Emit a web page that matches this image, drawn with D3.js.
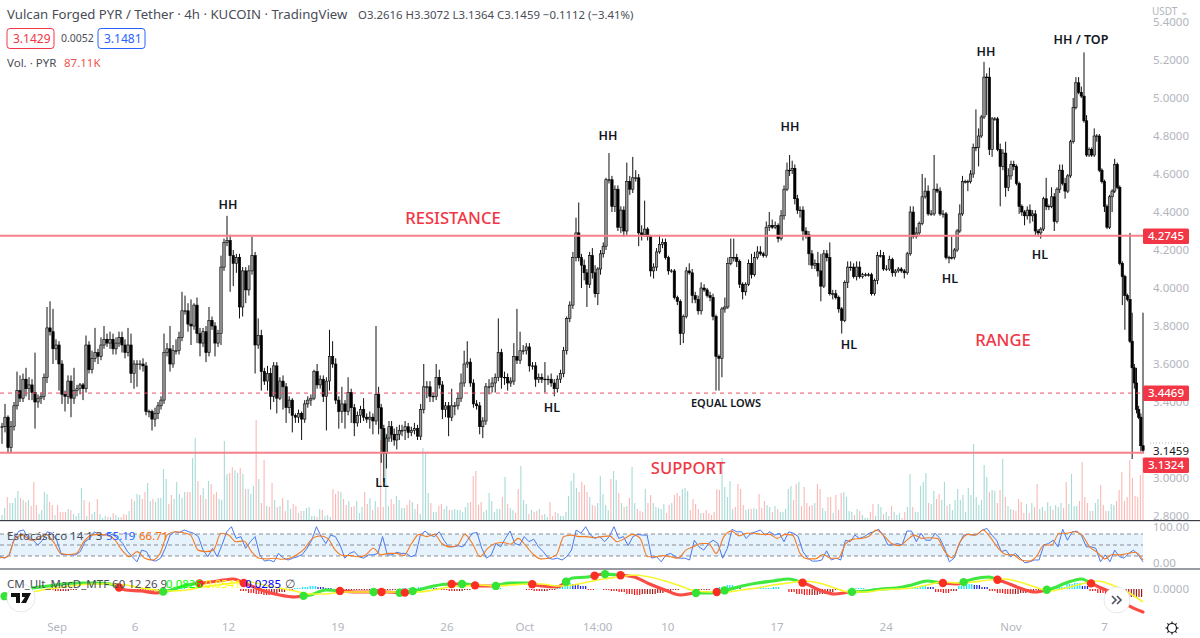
<!DOCTYPE html>
<html><head><meta charset="utf-8"><script src="https://cdnjs.cloudflare.com/ajax/libs/d3/7.8.5/d3.min.js"></script>
<style>html,body{margin:0;background:#fff;overflow:hidden}svg{display:block;font-family:"Noto Sans",sans-serif}</style></head><body><svg id="c" width="1200" height="638"></svg>
<script>
const closes=[
3.27,3.32,3.16,3.27,3.38,3.46,3.42,3.52,3.47,3.49,
3.45,3.40,3.42,3.43,3.53,3.79,3.77,3.68,3.70,3.60,
3.44,3.43,3.51,3.42,3.46,3.47,3.49,3.47,3.70,3.57,
3.63,3.66,3.64,3.70,3.73,3.71,3.73,3.68,3.71,3.74,
3.70,3.66,3.70,3.55,3.60,3.60,3.60,3.59,3.35,3.35,
3.31,3.34,3.38,3.41,3.66,3.68,3.60,3.67,3.67,3.74,
3.88,3.88,3.81,3.80,3.91,3.76,3.71,3.77,3.66,3.83,
3.80,3.71,3.76,4.11,4.24,4.25,4.17,4.13,4.16,3.90,
4.09,3.99,4.09,4.17,3.70,3.75,3.56,3.51,3.55,3.43,
3.59,3.42,3.51,3.48,3.37,3.41,3.33,3.32,3.34,3.31,
3.39,3.41,3.42,3.56,3.49,3.52,3.43,3.51,3.64,3.60,
3.41,3.35,3.39,3.35,3.45,3.37,3.29,3.33,3.36,3.32,
3.31,3.32,3.30,3.44,3.37,3.26,3.13,3.21,3.27,3.23,
3.20,3.23,3.25,
3.25,3.27,3.24,3.25,3.26,3.22,3.36,3.48,3.48,3.43,
3.43,3.53,3.49,3.36,3.38,3.32,3.38,3.38,3.42,3.50,
3.60,3.61,3.50,3.39,3.38,3.27,3.30,3.48,3.48,3.50,
3.53,3.66,3.53,3.53,3.50,3.51,3.64,3.62,3.67,3.67,
3.69,3.59,3.59,3.52,3.53,3.52,3.52,3.52,3.50,3.47,
3.52,3.55,3.67,3.84,3.91,4.16,4.29,4.16,4.12,4.08,
4.02,4.17,4.08,3.97,4.10,4.18,4.22,4.57,4.57,4.43,
4.52,4.32,4.41,4.30,4.56,4.52,4.58,4.58,4.29,4.28,
4.31,4.27,4.09,4.11,4.19,4.23,4.24,4.16,4.09,4.09,
3.95,3.93,3.76,3.85,4.09,4.08,3.96,3.94,3.88,4.00,
3.99,3.96,3.95,3.85,3.64,3.63,3.89,3.90,4.13,4.16,
4.16,4.14,4.02,3.98,4.02,4.13,4.07,4.16,4.19,4.18,
4.17,4.32,4.33,4.32,4.33,4.26,4.38,4.52,4.62,4.62,
4.63,4.47,4.41,
4.41,4.30,4.28,4.18,4.12,4.13,4.09,4.01,4.18,4.16,
3.97,3.97,3.95,3.89,3.83,4.03,4.11,4.11,4.06,4.11,
4.06,4.07,4.07,4.07,3.97,4.04,4.17,4.17,4.10,4.10,
4.15,4.08,4.09,4.10,4.09,4.08,4.18,4.40,4.27,4.29,
4.34,4.48,4.51,4.39,4.39,4.52,4.51,4.39,4.39,4.16,
4.16,4.16,4.20,4.30,4.39,4.56,4.56,4.56,4.60,4.74,
4.74,4.80,4.90,5.11,5.11,4.73,4.89,4.89,4.73,4.64,
4.71,4.53,4.59,4.65,4.64,4.55,4.43,4.40,4.38,4.41,
4.38,4.39,4.30,4.29,4.31,4.47,4.43,4.43,4.48,4.35,
4.52,4.62,4.55,4.51,4.59,4.77,4.95,5.08,5.03,5.01,
4.88,4.70,4.73,4.70,4.80,4.80,4.62,4.56,4.43,4.32,
4.48,4.51,4.65,4.53,4.13,4.06,3.96,3.94,
3.72,3.58,3.50,3.36,3.32,3.17,3.1459];
const upperWicks=[
2,7,1,3,2,10,8,3,6,4, 3,21,2,2,2,11,14,12,3,2, 2,2,3,3,12,2,1,1,5,2, 4,13,2,4,7,3,4,3,3,3,
3,3,9,6,2,2,2,3,2,1, 1,3,2,2,10,3,12,3,6,3, 10,8,4,13,1,4,3,2,3,7, 2,2,2,6,2,13,3,3,2,2,
2,2,3,10,2,9,3,2,4,3, 2,2,2,3,2,2,1,1,2,1, 2,2,2,1,4,2,2,2,14,8, 3,2,9,2,8,2,2,2,2,6,
2,3,2,36,4,2,2,2,3,3, 3,4,3,
3,3,2,2,3,2,3,12,3,3, 2,7,4,2,2,2,9,2,3,5, 7,11,2,2,2,2,2,2,4,3, 2,18,2,3,2,2,7,25,10,3,
2,2,2,2,2,2,9,2,3,2, 2,2,2,1,2,3,8,16,2,3, 2,2,4,4,1,2,2,1,14,2, 2,2,2,2,10,3,11,4,2,4,
15,1,1,2,2,5,2,2,1,1, 1,1,1,1,2,4,2,2,2,3, 2,1,2,2,1,1,1,5,3,10, 10,2,1,1,1,2,5,3,3,3,
1,3,7,3,2,1,3,2,4,8, 4,2,2,
2,2,2,2,2,2,6,9,2,2, 8,2,2,1,1,1,3,3,2,3, 3,1,1,1,1,1,2,3,2,2, 2,1,1,1,1,1,1,3,3,3,
1,12,7,3,2,18,3,2,2,1, 1,11,1,1,5,3,1,1,2,2, 20,4,1,8,2,5,1,1,1,3, 2,6,4,2,2,1,1,1,1,2,
3,2,2,1,1,1,11,1,5,2, 1,3,3,3,1,1,5,3,3,3, 23,3,1,1,4,1,1,1,1,1, 1,1,3,1,1,1,1,1,
35,15,2,8,2,2,70];
const lowerWicks=[
9,3,3,3,2,2,2,2,4,6, 4,14,3,3,2,3,2,8,6,14, 5,8,4,10,3,3,3,6,2,2, 2,2,4,2,2,2,3,3,3,2,
4,3,2,5,8,12,3,3,2,3, 6,4,3,2,2,2,4,2,2,2, 2,2,4,10,2,5,7,2,5,2, 2,7,2,6,2,2,19,12,5,6,
5,7,3,2,15,2,10,2,5,7, 3,8,1,12,8,3,9,3,3,11, 2,2,3,1,2,2,3,18,5,2, 2,9,6,9,2,8,7,2,4,2,
2,5,7,2,14,18,15,8,2,4, 3,5,3,
3,5,3,2,2,2,2,2,6,3, 3,2,2,5,4,10,2,5,2,2, 2,2,2,2,2,4,6,2,4,3, 5,2,6,4,4,2,2,2,2,2,
2,3,2,4,2,2,7,3,2,4, 2,2,2,2,2,2,2,2,12,4, 12,2,3,2,6,3,2,2,2,3, 3,2,3,3,2,3,2,2,7,3,
1,2,3,4,2,1,2,1,2,1, 1,2,6,5,1,1,4,2,2,2, 1,1,2,2,18,17,10,2,1,1, 2,3,2,4,2,1,2,1,1,1,
1,1,2,1,1,2,1,2,1,3, 2,3,2,
4,5,2,6,2,2,3,8,1,2, 1,3,1,2,7,1,3,2,1,2, 1,1,1,1,1,1,2,1,1,1, 1,2,2,1,1,3,1,1,1,1,
1,1,1,1,1,1,1,1,2,1, 3,1,1,1,1,1,1,5,1,2, 2,10,1,1,20,3,4,1,1,21, 2,5,2,2,2,1,4,2,5,2,
4,3,2,2,3,1,2,2,1,5, 1,2,1,4,1,1,1,1,1,1, 1,1,1,1,1,3,1,1,3,1, 1,8,1,1,1,15,18,1,
1,48,3,2,1,3,1];
const volumes=[
5,12,23,17,17,22,29,22,20,18,20,14,38,15,6,10,28,26,18,15,5,15,8,8,8,11,10,6,4,7,32,20,4,18,6,8,21,6,2,4,3,3,7,5,3,3,6,5,9,21,19,26,25,21,28,37,19,21,18,22,22,51,41,16,25,21,38,26,22,28,28,28,62,82,39,25,32,21,39,36,26,28,21,20,79,46,47,53,50,47,52,46,31,31,26,34,100,41,17,60,14,13,37,20,13,14,22,9,20,11,16,14,7,9,9,12,13,4,4,3,11,10,4,5,3,31,26,29,28,21,15,19,13,14,19,7,13,28,16,22,10,19,13,80,13,87,14,21,16,24,20,12,12,15,20,18,11,16,6,72,67,27,17,8,8,14,16,11,14,10,10,
11,10,10,8,13,17,18,44,49,15,18,8,10,27,19,8,11,11,23,43,16,12,10,7,31,54,20,16,6,10,8,9,11,5,6,3,18,4,8,7,4,4,8,24,39,47,32,28,38,35,28,23,15,14,17,44,26,15,10,41,49,40,27,17,13,14,22,53,17,11,9,8,31,17,25,17,13,12,11,16,7,15,17,25,27,24,31,32,29,10,21,16,11,7,7,10,7,5,8,31,30,62,33,23,39,11,13,36,31,15,10,11,11,12,11,26,12,19,15,13,8,14,11,8,8,11,31,34,20,36,
38,14,33,17,14,15,17,36,31,12,9,23,23,7,25,10,27,28,23,9,8,5,11,9,5,2,2,8,16,4,16,13,6,8,4,14,8,5,7,2,8,13,46,13,8,8,34,38,47,17,16,29,21,26,20,38,14,16,10,20,31,20,25,8,32,25,76,23,15,20,55,43,28,30,29,17,30,61,23,14,11,10,9,21,18,7,16,7,17,13,36,11,13,9,18,14,10,15,13,17,12,38,16,46,14,14,19,58,23,17,9,9,17,21,35,15,9,9,16,15,19,30,48,19,23,60,42,24,23,45,63];
const stochK=[
18,14,23,68,88,91,68,63,50,63,86,82,63,24,24,23,23,32,59,68,86,77,77,82,77,68,54,32,18,4,36,32,9,6,14,41,77,86,84,91,86,82,73,36,18,41,18,50,86,100,68,73,41,59,73,23,6,9,4,27,14,9,14,18,24,41,63,100,73,54,77,73,50,14,27,32,18,14,23,23,27,73,23,23,30,27,27,18,23,77,88,77,73,86,63,45,45,
48,45,63,82,84,41,14,23,54,45,68,88,54,50,73,59,66,45,32,15,11,14,9,18,36,91,82,100,77,68,73,59,73,100,68,73,48,73,79,77,77,14,18,4,23,27,18,14,14,9,63,45,36,54,63,54,14,41,93,86,86,68,82,86,91,77,86,77,82,59,86,82,73,32,14,6,6,9,34,9,14,9,63,59,77,68,73,82,86,93,77,50,50,
54,50,88,88,59,82,63,63,82,68,41,4,14,50,77,79,77,79,91,95,77,63,32,36,18,27,14,1,4,9,9,50,54,63,45,93,63,86,88,75,45,45,41,4,23,4,36,18,14,27,36,23,4];
const stochD=[
15,18,68,77,63,66,79,59,27,24,27,59,77,79,77,66,36,18,32,14,9,27,79,86,84,77,36,32,36,82,77,59,61,32,14,12,14,11,14,24,41,68,75,68,36,21,21,18,23,41,23,27,27,21,54,79,73,79,54,
45,48,79,54,18,41,54,57,52,68,48,24,12,14,23,73,77,73,73,70,73,75,59,68,79,68,18,18,21,18,14,36,45,54,54,27,73,88,75,82,82,79,79,68,79,77,27,12,12,24,14,14,54,66,68,73,91,75,54,
48,63,77,68,70,68,32,15,59,79,77,91,70,41,24,23,9,6,18,50,50,82,82,86,77,45,30,12,24,23,27,30,9];
const macdLine=[
-.08,-.03,.01,.03,.05,.06,.06,.05,-.01,-.02,-.04,-.01,.04,.06,.08,.10,.04,-.02,-.06,-.08,-.06,-.01,-.02,-.03,-.03,-.03,-.04,-.01,.03,
.05,.05,.03,.03,.06,.06,.03,.02,.11,.12,.15,.14,.12,.05,-.01,-.06,-.04,-.04,-.01,.03,.06,.08,.10,.06,-.01,-.05,-.03,-.02,0,
.01,.04,.08,.06,.05,.10,.12,.07,.01,-.03,0,.06,.10,.03,-.04,-.16,-.23];
const signalLine=[
-.06,-.06,-.03,0,.02,.04,.05,.05,.04,.01,-.01,-.02,-.01,.02,.04,.06,.07,.04,.01,-.02,-.05,-.05,-.03,-.03,-.03,-.03,-.03,-.03,-.01,
.02,.03,.04,.03,.04,.05,.05,.03,.04,.07,.10,.12,.14,.12,.08,.03,-.02,-.03,-.03,-.01,.01,.04,.06,.08,.06,.01,-.03,-.03,-.01,
0,.01,.04,.07,.06,.07,.09,.10,.07,.02,-.02,.01,.05,.08,.04,-.03,-.13];
const macdHist=[
0,0,0,0,0,0,-1,-2,-2,-1,0,0,0,0,0,-1,-2,-2,-3,-4,-2,0,1,1,0,0,0,0,0,0,0,-2,-4,-5,-6,-5,-3,-1,1,2,3,2,1,-1,-1,-1,-1,-1,-1,-1,-1,-1,1,1,2,2,1,
-1,-2,-2,-1,0,0,0,1,0,0,0,-1,-2,-2,-1,3,6,5,3,-1,0,-1,-2,-3,-5,-6,-5,-5,-4,-3,-1,0,0,-1,-1,0,2,4,2,0,1,1,1,2,0,-3,-5,-6,-6,-5,-3,-1,0,1,1,0,1,0,1,1,1,1,3,2,-3,-4,-2,3,5,4,2,-2,-4,-5,-5,-4,-3,-1,0,1,2,5,6,3,-2,-4,-6,-7,-8,-8,-8];
const crossBars=[1,45,62,76,93,116,130,143,146,153,155,158,173,177,182,190,204,217,228,232,238,267,275,278,308,327,362,370,383,402,419];
const crossKinds=["g","r","g","r","r","g","r","g","r","g","r","g","r","g","r","g","r","g","r","g","r","g","r","g","r","g","r","g","r","g","r"];
const priceTicks=[5.4,5.2,5,4.8,4.6,4.4,4.2,4,3.8,3.6,3.4,3,2.8];
const timeBars=[21,51,87,129,171,201,229,256,298,340,388,424];
const timeLabels=["Sep","6","12","19","26","Oct","14:00","10","17","24","Nov","7"];
const levels=[{p:4.2745,dash:null,w:2,boxY:236},{p:3.4469,dash:"4 4",w:1,boxY:393},{p:3.1324,dash:null,w:2,boxY:465}];
const notes=[["HH",228,204],["HH",608,135],["HH",790,126],["HH",986,51],["HH / TOP",1081,39],["HL",552,407],["HL",950,278],["HL",849,344],["HL",1040,254],["LL",382,482]];
const redNotes=[["RESISTANCE",453,218],["SUPPORT",688,468],["RANGE",1003,340]];

const svg=d3.select("#c");
const N=closes.length, L=1143;
const candleX=d3.scaleLinear().domain([0,48,75,83,123,133,189,200,237,261,266,316,329,366,384,N-1]).range([2,146,227,252,376,402,576,606,716,787,800,949,984,1084,1130,L]);
const barX=d3.scaleLinear().domain([0,439]).range([2,L]);
const y=d3.scaleLinear().domain([5.4,2.8]).range([22,516]);
const yVol=d3.scaleLinear().domain([0,100]).range([520,420]);
const yS=d3.scaleLinear().domain([0,100]).range([563.3,526.7]);
const yM=d3.scaleLinear().domain([.2,-.3]).range([569,619]);
const candles=closes.map((c,i)=>{const o=i?closes[i-1]:c;return{i,o,c,h:Math.max(o,c)+upperWicks[i]/100,l:Math.min(o,c)-lowerWicks[i]/100,up:c>=o}});

// volume
const volX=d3.scaleLinear().domain([0,volumes.length-1]).range([2,L]);
const cAt=d3.scaleLinear().domain(candleX.range()).range(candleX.domain()).clamp(true);
svg.append("g").selectAll("rect").data(volumes).join("rect")
 .attr("x",(d,i)=>volX(i)-.55).attr("width",1.1).attr("y",d=>yVol(d)).attr("height",d=>520-yVol(d))
 .attr("fill",(d,i)=>candles[Math.round(cAt(volX(i)))].up?"#a6dbd6":"#fab8b5");

// candles
const g=svg.append("g");
g.selectAll("line").data(candles).join("line").attr("x1",d=>candleX(d.i)).attr("x2",d=>candleX(d.i)).attr("y1",d=>y(d.h)).attr("y2",d=>y(d.l)).attr("stroke","#111").attr("stroke-width",1);
g.selectAll("rect").data(candles).join("rect").attr("x",d=>candleX(d.i)-1.2).attr("width",2.4)
 .attr("y",d=>y(Math.max(d.o,d.c))).attr("height",d=>Math.max(.6,Math.abs(y(d.o)-y(d.c))))
 .attr("fill",d=>d.up?"#999":"#000").attr("stroke","#000").attr("stroke-width",.6);

// levels
svg.append("g").selectAll("line").data(levels).join("line").attr("x1",0).attr("x2",1144).attr("y1",d=>y(d.p)).attr("y2",d=>y(d.p))
 .attr("stroke",d=>d.dash?"#e8505f":"#f7808c").attr("stroke-width",d=>d.w).attr("stroke-dasharray",d=>d.dash);

// stochastic
const st=svg.append("g");
st.append("rect").attr("x",0).attr("width",1143).attr("y",yS(80)).attr("height",yS(20)-yS(80)).attr("fill","#e6f2fc");
st.selectAll("line").data([80,50,20]).join("line").attr("x1",0).attr("x2",1143).attr("y1",d=>yS(d)).attr("y2",d=>yS(d)).attr("stroke","#8a8d96").attr("stroke-dasharray","4 3");
const kX=d3.scaleLinear().domain([0,stochK.length-1]).range([0,L]);
const dX=d3.scaleLinear().domain([0,stochD.length-1]).range([0,L]);
st.append("path").attr("d",d3.line().x((d,i)=>kX(i)).y(d=>yS(d))(stochK)).attr("fill","none").attr("stroke","#4a78ee").attr("stroke-width",1);
st.append("path").attr("d",d3.line().x((d,i)=>dX(i)).y(d=>yS(d)).curve(d3.curveMonotoneX)(stochD)).attr("fill","none").attr("stroke","#f57c22").attr("stroke-width",1.1);

// macd
const m=svg.append("g");
const hX=d3.scaleLinear().domain([0,macdHist.length-1]).range([4,L-4]);
const hStep=(L-8)/(macdHist.length-1);
const histBars=macdHist.flatMap((d,i)=>[-1,0,1].map(k=>({d,i,x:hX(i)+k*hStep/3})));
m.selectAll("rect").data(histBars).join("rect").attr("x",b=>b.x-.6).attr("width",1.2)
 .attr("y",b=>yM(Math.max(b.d,0)/100)).attr("height",b=>Math.abs(yM(b.d/100)-yM(0)))
 .attr("fill",b=>{const p=b.i?macdHist[b.i-1]:0;return b.d>0?(b.d>=p?"#00e5ff":"#1a1ae0"):(b.d<p?"#f01414":"#a01818")});
const mX=d3.scaleLinear().domain([0,macdLine.length-1]).range([2,L]);
const mxs=macdLine.map((d,i)=>mX(i));
const macdAt=d3.scaleLinear().domain(mxs).range(macdLine);
const crossXs=crossBars.map(b=>barX(b));
crossXs.forEach((x0,k)=>{
 const x1=k+1<crossXs.length?crossXs[k+1]:L;
 const xs=[x0,...mxs.filter(x=>x>x0&&x<x1),x1];
 m.append("path").attr("d",d3.line().x(x=>x).y(x=>yM(macdAt(x))).curve(d3.curveMonotoneX)(xs)).attr("fill","none")
  .attr("stroke",crossKinds[k]=="g"?"#3fe83f":"#fb4b45").attr("stroke-width",3.2).attr("stroke-linecap","round");
});
m.append("path").attr("d",d3.line().x((d,i)=>mX(i)).y(d=>yM(d)).curve(d3.curveMonotoneX)(signalLine)).attr("fill","none").attr("stroke","#f7f72a").attr("stroke-width",1.6);
m.selectAll("circle").data(crossXs).join("circle").attr("cx",d=>d).attr("cy",d=>yM(macdAt(d))).attr("r",4.2).attr("fill",(d,i)=>crossKinds[i]=="g"?"#35e335":"#fa2f24");

// separators
svg.append("rect").attr("x",0).attr("width",1200).attr("y",520).attr("height",1.2).attr("fill","#3b3e47");
svg.append("rect").attr("x",0).attr("width",1200).attr("y",568).attr("height",2).attr("fill","#9a9ca3");

// axes
const axisStyle=s=>{s.select(".domain").remove();s.selectAll("text").attr("fill","#b2b5be").style("font-family",'"Noto Sans",sans-serif').style("font-size","11.5px")};
svg.append("g").attr("transform","translate(1146,0)").call(d3.axisRight(y).tickValues(priceTicks).tickFormat(d3.format(".4f")).tickSize(0).tickPadding(7)).call(axisStyle);
svg.append("g").attr("transform","translate(1146,0)").call(d3.axisRight(yS).tickValues([0,100]).tickFormat(d3.format(".2f")).tickSize(0).tickPadding(7)).call(axisStyle);
svg.append("g").attr("transform","translate(1146,0)").call(d3.axisRight(yM).tickValues([0]).tickFormat(d3.format(".4f")).tickSize(0).tickPadding(7)).call(axisStyle);
svg.append("g").attr("transform","translate(0,628)").call(d3.axisBottom(barX).tickValues(timeBars).tickFormat((d,i)=>timeLabels[i]).tickSize(0).tickPadding(-5)).call(axisStyle);

// price boxes
const box=svg.append("g");
levels.forEach(l=>{
 box.append("rect").attr("x",1143).attr("width",46).attr("y",l.boxY-7.5).attr("height",15.5).attr("rx",1.5).attr("fill","#f23645");
 box.append("text").attr("x",1166).attr("y",l.boxY+4).attr("text-anchor","middle").attr("fill","#fff").attr("font-size",11.5).attr("font-weight",500).text(d3.format(".4f")(l.p));
});
svg.append("line").attr("x1",1150).attr("x2",1186).attr("y1",443).attr("y2",443).attr("stroke","#b2b5be").attr("stroke-dasharray","1 2");
svg.append("text").attr("x",1153).attr("y",455).attr("fill","#131722").attr("font-size",11.5).text("3.1459");

// annotations
notes.forEach(n=>svg.append("text").attr("x",n[1]).attr("y",n[2]+4.5).attr("text-anchor","middle").attr("font-size",12.5).attr("font-weight",600).attr("fill","#131722").text(n[0]));
svg.append("text").attr("x",726).attr("y",407).attr("text-anchor","middle").attr("font-size",11).attr("font-weight",600).attr("fill","#131722").text("EQUAL LOWS");
redNotes.forEach(n=>svg.append("text").attr("x",n[1]).attr("y",n[2]+5.5).attr("text-anchor","middle").attr("font-size",16.6).attr("font-weight",500).attr("fill","#f23645").text(n[0]));

// logo, scroll button, gear
const logo=svg.append("g").attr("transform","translate(21,598)");
logo.append("circle").attr("r",14).attr("fill","#fff").attr("stroke","#e8e9ee");
logo.append("path").attr("d","M-10,-5H-1V5H-5V-1H-10Z M1,-5H10L5,5H0L4,-1H1Z").attr("fill","#111");
const sb=svg.append("g").attr("transform","translate(1117,600)");
sb.append("circle").attr("r",13).attr("fill","#fff").attr("stroke","#e8e9ee");
sb.append("path").attr("d","M-5,-4L-1,0L-5,4M0,-4L4,0L0,4").attr("fill","none").attr("stroke","#50535e").attr("stroke-width",1.6);
const gear=svg.append("g").attr("transform","translate(1172,628)");
gear.append("circle").attr("r",4.5).attr("fill","none").attr("stroke","#131722").attr("stroke-width",1.2);
d3.range(8).forEach(a=>{const t=a*Math.PI/4;gear.append("line").attr("x1",4.5*Math.cos(t)).attr("y1",4.5*Math.sin(t)).attr("x2",6.5*Math.cos(t)).attr("y2",6.5*Math.sin(t)).attr("stroke","#131722").attr("stroke-width",1.2)});

// header
const T=(x,yy,t,col,fs)=>svg.append("text").attr("x",x).attr("y",yy).attr("fill",col).attr("font-size",fs||12).text(t);
T(7,19,"Vulcan Forged PYR / Tether · 4h · KUCOIN · TradingView","#4a4d57",13.2);
T(358,19,"O3.2616  H3.3072  L3.1364  C3.1459  −0.1112 (−3.41%)","#4a4d57",11.4);
svg.append("rect").attr("x",7).attr("y",28.5).attr("width",47).attr("height",20).attr("rx",3).attr("fill","#fff").attr("stroke","#f23645");
T(13,43,"3.1429","#f23645",12);
T(61,42,"0.0052","#4a4d57",10.5);
svg.append("rect").attr("x",98).attr("y",28.5).attr("width",47).attr("height",20).attr("rx",3).attr("fill","#fff").attr("stroke","#2962ff");
T(104,43,"3.1481","#2962ff",12);
T(7,67,"Vol. · PYR","#4a4d57",11.5);
T(64,67,"87.11K","#ef5350",11.5);
T(1152,15,"USDT ⌄","#b2b5be",10);
T(7,540,"Estocástico 14 1 3","#4a4d57",11.5);
T(106,540,"55.19","#2962ff",11.5);
T(139,540,"66.71","#ff6d00",11.5);
T(7,588,"CM_Ult_MacD_MTF 60 12 26 9","#4a4d57",11.5);
T(166,588,"0.0826","#00ff00",11.5);
T(205,588,"0.0541","#ffff00",11.5);
T(245,588,"0.0285","#0000ff",11.5);
T(285,588,"∅","#4a4d57",11.5);
</script></body></html>
